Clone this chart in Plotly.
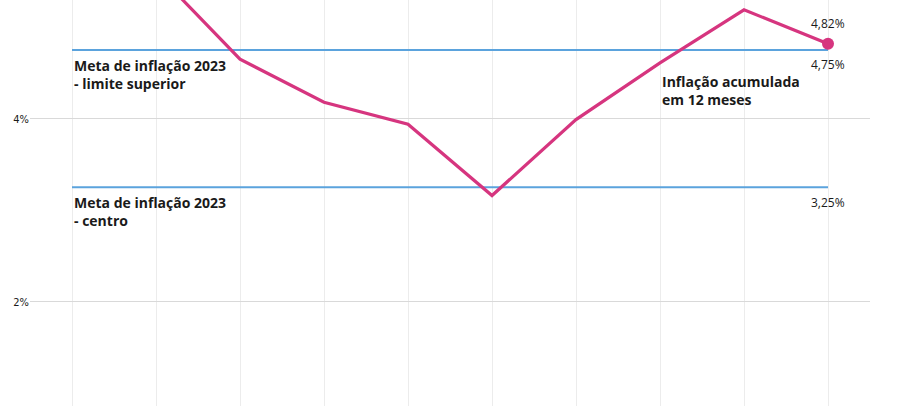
import plotly.graph_objects as go

# IPCA acumulado em 12 meses, 2023
meses = ["jan", "fev", "mar", "abr", "mai", "jun", "jul", "ago", "set", "out"]
inflacao_12m = [5.77, 5.60, 4.65, 4.18, 3.94, 3.16, 3.99, 4.61, 5.19, 4.82]

meta_centro = 3.25
meta_limite_superior = 4.75

y_ticks = [2, 4]
y_tick_labels = ["2%", "4%"]

PINK = "#d6357f"
BLUE = "#5ba3dd"
TEXT = "#1a1a1a"
LABEL_FONT = "Open Sans"

fig = go.Figure()

# metas (linhas horizontais)
for meta in [meta_limite_superior, meta_centro]:
    fig.add_trace(go.Scatter(
        x=[meses[0], meses[-1]], y=[meta, meta], mode="lines",
        line=dict(color=BLUE, width=2), hoverinfo="skip", showlegend=False,
    ))

fig.add_trace(go.Scatter(
    x=meses, y=inflacao_12m, mode="lines",
    line=dict(color=PINK, width=3.2), showlegend=False,
))
fig.add_trace(go.Scatter(
    x=[meses[-1]], y=[inflacao_12m[-1]], mode="markers",
    marker=dict(color=PINK, size=12), showlegend=False,
))

bold = dict(family=LABEL_FONT, size=14, color=TEXT, weight="bold")
small = dict(family=LABEL_FONT, size=12, color=TEXT)

fig.add_annotation(x=meses[0], y=meta_limite_superior, xanchor="left", yanchor="top",
                   yshift=-4, text="Meta de inflação 2023<br>- limite superior",
                   showarrow=False, align="left", font=bold)
fig.add_annotation(x=meses[0], y=meta_centro, xanchor="left", yanchor="top",
                   yshift=-4, text="Meta de inflação 2023<br>- centro",
                   showarrow=False, align="left", font=bold)
fig.add_annotation(x=meses[7], y=4.53, xanchor="left", yanchor="top",
                   text="Inflação acumulada<br>em 12 meses",
                   showarrow=False, align="left", font=bold)

fig.add_annotation(x=meses[-1], y=inflacao_12m[-1], yshift=20,
                   text=f"{inflacao_12m[-1]:.2f}%".replace(".", ","),
                   showarrow=False, font=small)
fig.add_annotation(x=meses[-1], y=meta_limite_superior, yshift=-14,
                   text=f"{meta_limite_superior:.2f}%".replace(".", ","),
                   showarrow=False, font=small)
fig.add_annotation(x=meses[-1], y=meta_centro, yshift=-15,
                   text=f"{meta_centro:.2f}%".replace(".", ","),
                   showarrow=False, font=small)

fig.update_xaxes(
    type="category", categoryorder="array", categoryarray=meses,
    range=[-0.5, 9.5], showgrid=True, gridcolor="#ececec",
    gridwidth=1, showticklabels=False, zeroline=False, showline=False,
)
fig.update_yaxes(
    range=[0.86, 5.297], tickvals=y_ticks, ticktext=y_tick_labels,
    showgrid=True, gridcolor="#d9d9d9", gridwidth=1, zeroline=False,
    automargin=False, ticks="",
    tickfont=dict(family="Liberation Sans Narrow, DejaVu Sans Condensed, Roboto",
                  size=11, color=TEXT),
)

fig.update_layout(
    width=900, height=406,
    margin=dict(l=30, r=30, t=0, b=0),
    plot_bgcolor="white", paper_bgcolor="white",
    showlegend=False,
)

fig.write_html("out.html", config={"displayModeBar": False},
               post_script="document.body.style.margin = '0';")
